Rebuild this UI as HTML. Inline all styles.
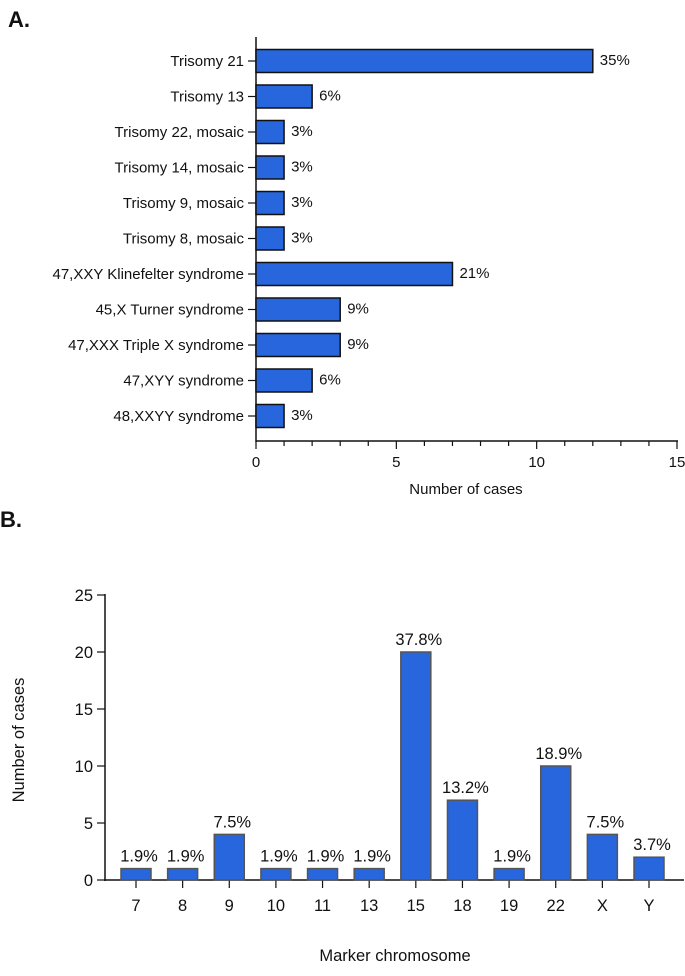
<!DOCTYPE html>
<html><head><meta charset="utf-8"><style>
body{margin:0;background:#fff;}
svg text{font-family:"Liberation Sans",Arial,sans-serif;fill:#111;}
</style></head><body>
<svg id="chart" width="685" height="971" viewBox="0 0 685 971" xmlns="http://www.w3.org/2000/svg">
<text x="8" y="27" font-size="22" font-weight="bold">A.</text>
<text x="0" y="527" font-size="22" font-weight="bold">B.</text>
<g id="ga"></g>
<g id="gb"></g>
</svg>
<script>
const aCats=["Trisomy 21","Trisomy 13","Trisomy 22, mosaic","Trisomy 14, mosaic","Trisomy 9, mosaic","Trisomy 8, mosaic","47,XXY Klinefelter syndrome","45,X Turner syndrome","47,XXX Triple X syndrome","47,XYY syndrome","48,XXYY syndrome"];
const aVals=[12,2,1,1,1,1,7,3,3,2,1];
const aPcts=["35%","6%","3%","3%","3%","3%","21%","9%","9%","6%","3%"];
const aTicks=[0,5,10,15];
const bCats=["7","8","9","10","11","13","15","18","19","22","X","Y"];
const bVals=[1,1,4,1,1,1,20,7,1,10,4,2];
const bPcts=["1.9%","1.9%","7.5%","1.9%","1.9%","1.9%","37.8%","13.2%","1.9%","18.9%","7.5%","3.7%"];
const bTicks=[0,5,10,15,20,25];
const NS="http://www.w3.org/2000/svg";
function mk(p,t,at,txt){const e=document.createElementNS(NS,t);for(const k in at)e.setAttribute(k,at[k]);if(txt!==undefined)e.textContent=txt;p.appendChild(e);return e;}
const BLUE="#2766dc";
const FA=15, FB=16.5;
// Chart A
const ga=document.getElementById('ga');
const ax=v=>256+v*(677-256)/15;
const ay=i=>61+i*35.5;
mk(ga,'line',{x1:256,y1:37,x2:256,y2:442,stroke:'#111','stroke-width':1.5});
mk(ga,'line',{x1:256,y1:441,x2:678,y2:441,stroke:'#111','stroke-width':1.5});
for(let v=0;v<=15;v++){const t=mk(ga,'line',{x1:ax(v),y1:441,x2:ax(v),y2:(v%5===0?449:446),stroke:'#111','stroke-width':1.2});

}
aTicks.forEach(v=>{const t=mk(ga,'text',{x:ax(v),y:467,'font-size':FA,'text-anchor':'middle'},String(v));

});
const at=mk(ga,'text',{x:466,y:494,'font-size':FA,'text-anchor':'middle'},'Number of cases');


aCats.forEach((c,i)=>{
 const y=ay(i);
 mk(ga,'line',{x1:248,y1:y,x2:256,y2:y,stroke:'#111','stroke-width':1.2});
 const l=mk(ga,'text',{x:244,y:y+5,'font-size':FA,'text-anchor':'end'},c);
 
 
 const r=mk(ga,'rect',{x:256,y:y-11.5,width:ax(aVals[i])-256,height:23,fill:BLUE,stroke:'#111','stroke-width':1.5});
 
 
 const p=mk(ga,'text',{x:ax(aVals[i])+7,y:y+4,'font-size':FA},aPcts[i]);
 
 
});
// Chart B
const gb=document.getElementById('gb');
const by=v=>880-v*(880-595)/25;
const bx=i=>136+i*(649-136)/11;
mk(gb,'line',{x1:105,y1:594,x2:105,y2:881,stroke:'#111','stroke-width':1.5});
mk(gb,'line',{x1:104,y1:880,x2:684,y2:880,stroke:'#111','stroke-width':1.5});
bTicks.forEach(v=>{
 mk(gb,'line',{x1:97,y1:by(v),x2:105,y2:by(v),stroke:'#111','stroke-width':1.2});
 const t=mk(gb,'text',{x:93,y:by(v)+6,'font-size':FB,'text-anchor':'end'},String(v));
 
 
});
const yt=mk(gb,'text',{x:0,y:0,'font-size':FB,'text-anchor':'middle',transform:'translate(24,740) rotate(-90)'},'Number of cases');


const xt=mk(gb,'text',{x:395,y:961,'font-size':FB,'text-anchor':'middle'},'Marker chromosome');


bCats.forEach((c,i)=>{
 const x=bx(i);
 mk(gb,'line',{x1:x,y1:880,x2:x,y2:888,stroke:'#111','stroke-width':1.2});
 const l=mk(gb,'text',{x:x,y:911,'font-size':FB,'text-anchor':'middle'},c);
 
 
 const r=mk(gb,'rect',{x:x-15,y:by(bVals[i]),width:30,height:880-by(bVals[i]),fill:BLUE,stroke:'#555','stroke-width':1.5});
 
 
 const p=mk(gb,'text',{x:x+3,y:by(bVals[i])-7,'font-size':FB,'text-anchor':'middle'},bPcts[i]);
 
 
});
</script>
</body></html>
